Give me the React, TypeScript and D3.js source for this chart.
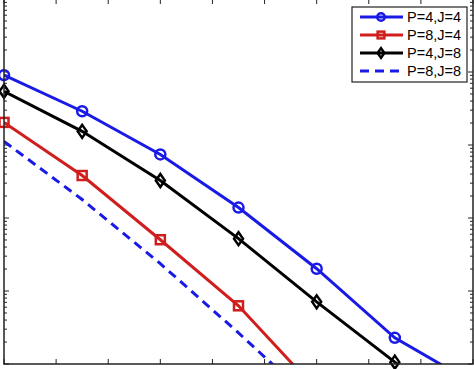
import React from "react";
import * as d3 from "d3";

// x positions (dB) and the four curves
const snr = [0, 3, 6, 9, 12, 15, 18];
const p4j4 = [0.0904, 0.029, 0.00743, 0.00139, 2.02e-4, 2.28e-5, 5.5e-6];
const p8j4 = [0.0204, 0.00382, 5.04e-4, 6.27e-5, 4.4e-6, 3e-7, 2e-8];
const p4j8 = [0.0544, 0.01538, 0.00327, 5.21e-4, 7.1e-5, 1.06e-5, 1.5e-6];
const p8j8 = [0.0112, 0.00179, 2.37e-4, 2.67e-5, 2.73e-6, 2e-7, 1e-8];
const xTicks = [0, 2, 4, 6, 8, 10, 12, 14, 16, 18];
const legendLabels = ["P=4,J=4", "P=8,J=4", "P=4,J=8", "P=8,J=8"];

const width = 474;
const height = 369;
const left = 4;
const right = 473;
const top = -1;
const bottom = 364;

const BLUE = "#1a1ae6";
const RED = "#d01e1e";

const series = [
  { values: p4j4, color: BLUE, marker: "circle", dash: null },
  { values: p8j4, color: RED, marker: "square", dash: null },
  { values: p4j8, color: "#000", marker: "diamond", dash: null },
  { values: p8j8, color: BLUE, marker: null, dash: "9,6" },
];

function Marker({ type, x, y, color, k = 1 }) {
  if (type === "circle")
    return <circle cx={x} cy={y} r={5 * k} fill="none" stroke={color} strokeWidth={2.5} />;
  if (type === "square")
    return (
      <rect
        x={x - 4.5 * k}
        y={y - 4.5 * k}
        width={9 * k}
        height={9 * k}
        fill="none"
        stroke={color}
        strokeWidth={2.5}
      />
    );
  if (type === "diamond")
    return (
      <path
        d={`M${x},${y - 6.5 * k}L${x + 4.5 * k},${y}L${x},${y + 6.5 * k}L${x - 4.5 * k},${y}Z`}
        fill="none"
        stroke={color}
        strokeWidth={2.5}
      />
    );
  return null;
}

export default function App() {
  const x = d3.scaleLinear().domain([0, 18]).range([left, right]);
  const y = d3.scaleLog().domain([1e-5, 1]).range([bottom, top]);
  const line = d3
    .line<number>()
    .x((d, i) => x(snr[i]))
    .y((d) => y(d));

  // log ticks: majors at decades, minors at 2..9
  const yTicks: { v: number; major: boolean }[] = [];
  for (let e = -5; e <= 0; e++) {
    yTicks.push({ v: Math.pow(10, e), major: true });
    if (e < 0) for (let m = 2; m <= 9; m++) yTicks.push({ v: m * Math.pow(10, e), major: false });
  }

  const lx = 352, ly = 7, lw = 115, lh = 75;

  return (
    <svg
      width={width}
      height={height}
      style={{ position: "fixed", left: 0, top: 0, background: "#fff" }}
    >
      <defs>
        <clipPath id="plot">
          <rect x={left} y={top} width={right - left} height={bottom - top} />
        </clipPath>
      </defs>

      {/* ticks */}
      <g stroke="#222" strokeWidth={1}>
        {xTicks.map((t) => (
          <g key={t}>
            <line x1={x(t)} x2={x(t)} y1={bottom} y2={bottom - 5} />
            <line x1={x(t)} x2={x(t)} y1={top} y2={top + 5} />
          </g>
        ))}
        {yTicks.map((t, i) => {
          const len = t.major ? 5 : 3;
          return (
            <g key={i}>
              <line x1={left} x2={left + len} y1={y(t.v)} y2={y(t.v)} />
              <line x1={right} x2={right - len} y1={y(t.v)} y2={y(t.v)} />
            </g>
          );
        })}
      </g>

      {/* lines */}
      <g clipPath="url(#plot)">
        {series.map((s, i) => (
          <path
            key={i}
            d={line(s.values) || ""}
            fill="none"
            stroke={s.color}
            strokeWidth={3}
            strokeDasharray={s.dash || undefined}
          />
        ))}
      </g>

      {/* markers */}
      {series.map((s, i) =>
        s.marker
          ? s.values.map((v, j) =>
              y(v) <= bottom + 3 ? (
                <Marker key={`${i}-${j}`} type={s.marker} x={x(snr[j])} y={y(v)} color={s.color} />
              ) : null
            )
          : null
      )}

      {/* frame */}
      <rect
        x={left}
        y={top}
        width={right - left}
        height={bottom - top}
        fill="none"
        stroke="#222"
        strokeWidth={1.5}
      />

      {/* legend */}
      <rect x={lx} y={ly} width={lw} height={lh} fill="#fff" stroke="#222" strokeWidth={1.2} />
      {series.map((s, i) => {
        const cy = ly + 10 + i * 18;
        return (
          <g key={i}>
            <line
              x1={lx + 8}
              x2={lx + 51}
              y1={cy}
              y2={cy}
              stroke={s.color}
              strokeWidth={3}
              strokeDasharray={s.dash ? "9,6" : undefined}
            />
            {s.marker && <Marker type={s.marker} x={lx + 29} y={cy} color={s.color} k={0.75} />}
            <text
              x={lx + 55}
              y={cy + 5}
              fontFamily="Liberation Sans, Arial, sans-serif"
              fontSize={14.5}
              fill="#000"
            >
              {legendLabels[i]}
            </text>
          </g>
        );
      })}
    </svg>
  );
}
